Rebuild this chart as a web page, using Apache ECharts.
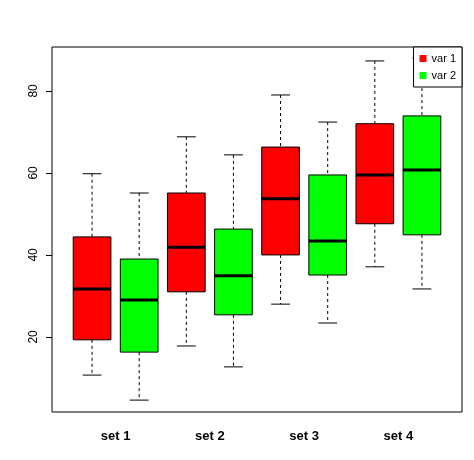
<!DOCTYPE html>
<html><head><meta charset="utf-8">
<script src="https://cdn.jsdelivr.net/npm/echarts@6/dist/echarts.min.js"></script>
<style>html,body{margin:0;background:#fff}#c{width:474px;height:460px}</style>
</head><body><div id="c"></div>
<script>
var sets = ['set 1', 'set 2', 'set 3', 'set 4'];
// [min, Q1, median, Q3, max]
var var1 = [[10.7, 19.3, 31.7, 44.4, 59.8], [17.8, 31.0, 41.9, 55.1, 68.8], [28.0, 40.0, 53.7, 66.3, 79.0], [37.1, 47.6, 59.5, 72.0, 87.3]];
var var2 = [[4.6, 16.3, 29.0, 39.0, 55.1], [12.7, 25.4, 34.9, 46.3, 64.4], [23.4, 35.1, 43.4, 59.5, 72.4], [31.7, 44.9, 60.7, 73.9, 88.0]];
var yTicks = [20, 40, 60, 80];

var slots = ['1a', '1b', '2a', '2b', '3a', '3b', '4a', '4b'];
function rows(arr, off) {
	return arr.map(function (d, i) { return [i * 2 + off].concat(d); });
}

function renderBox(params, api) {
	var x = api.value(0);
	var lo = api.coord([x, api.value(1)]), q1 = api.coord([x, api.value(2)]),
		md = api.coord([x, api.value(3)]), q3 = api.coord([x, api.value(4)]),
		hi = api.coord([x, api.value(5)]);
	var w = api.size([1, 0])[0] * 0.8;
	var cx = md[0], color = api.visual('color');
	var dash = { stroke: '#000', lineWidth: 1, lineDash: [3, 3] };
	var solid = { stroke: '#000', lineWidth: 1 };
	return {
		type: 'group',
		children: [
			{ type: 'line', shape: { x1: cx, y1: hi[1], x2: cx, y2: q3[1] }, style: dash },
			{ type: 'line', shape: { x1: cx, y1: q1[1], x2: cx, y2: lo[1] }, style: dash },
			{ type: 'line', shape: { x1: cx - w / 4, y1: hi[1], x2: cx + w / 4, y2: hi[1] }, style: solid },
			{ type: 'line', shape: { x1: cx - w / 4, y1: lo[1], x2: cx + w / 4, y2: lo[1] }, style: solid },
			{ type: 'rect', shape: { x: cx - w / 2, y: q3[1], width: w, height: q1[1] - q3[1] },
				style: { fill: color, stroke: '#000', lineWidth: 1 } },
			{ type: 'line', shape: { x1: cx - w / 2, y1: md[1], x2: cx + w / 2, y2: md[1] },
				style: { stroke: '#000', lineWidth: 3 } }
		]
	};
}

var chart = echarts.init(document.getElementById('c'));
chart.setOption({
	animation: false,
	grid: { left: 68.5, right: 28.5, top: 47, bottom: 48 },
	graphic: [{ type: 'rect', shape: { x: 52, y: 47, width: 410, height: 365 },
		style: { fill: 'none', stroke: '#000', lineWidth: 1 }, silent: true }],
	legend: {
		right: 12, top: 47, orient: 'vertical', backgroundColor: '#fff',
		borderColor: '#000', borderWidth: 1, borderRadius: 0, padding: [6, 6, 6, 6],
		itemWidth: 7, itemHeight: 7, itemGap: 6, icon: 'rect',
		textStyle: { fontSize: 11, color: '#000', fontFamily: 'Liberation Sans' },
		data: ['var 1', 'var 2']
	},
	xAxis: [
		{ type: 'category', data: slots, axisLine: { show: false }, axisTick: { show: false }, axisLabel: { show: false } },
		{ type: 'category', data: sets, position: 'bottom', axisLine: { show: false }, axisTick: { show: false },
			axisLabel: { margin: 18, fontSize: 13, fontWeight: 'bold', color: '#000', fontFamily: 'Liberation Sans' } }
	],
	yAxis: {
		type: 'value', min: 1.7, max: 90.7, offset: 16.5, splitLine: { show: false },
		axisLine: { show: false },
		axisTick: { show: true, length: 6, customValues: yTicks, lineStyle: { color: '#000' } },
		axisLabel: { rotate: 90, customValues: yTicks, margin: 12, fontSize: 12, color: '#000', fontFamily: 'Liberation Sans' }
	},
	series: [
		{ name: 'var 1', type: 'custom', color: '#ff0000', renderItem: renderBox, data: rows(var1, 0),
			encode: { x: 0, y: [1, 2, 3, 4, 5] } },
		{ name: 'var 2', type: 'custom', color: '#00ff00', renderItem: renderBox, data: rows(var2, 1),
			encode: { x: 0, y: [1, 2, 3, 4, 5] } }
	]
});
</script></body></html>
